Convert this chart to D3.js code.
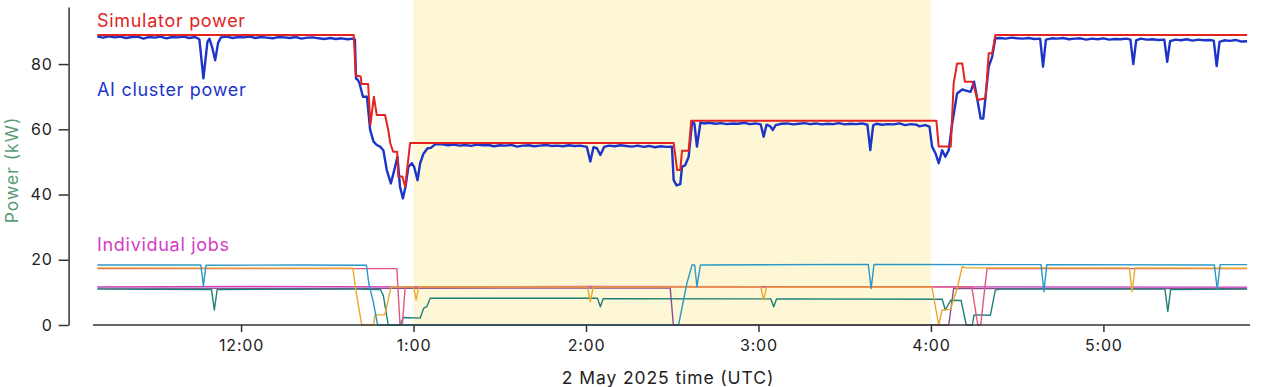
<!DOCTYPE html>
<html>
<head>
<meta charset="utf-8">
<script src="https://cdn.jsdelivr.net/npm/d3@7"></script>
<style>
  body { margin: 0; background: #fff; }
  svg { display: block; font-family: Inter, "Noto Sans", sans-serif; }
</style>
</head>
<body>
<div id="wrapper"></div>
<script>
// times are minutes after 23:00 UTC on 1 May 2025, values in kW

const simulatorPower = [
  [10, 88.9], [99.2, 88.9], [99.9, 76.5], [101.6, 76.2], [101.9, 73.9], [104.2, 73.9],
  [105.0, 61.3], [106.2, 70.0], [107.2, 64.4], [110.1, 64.4], [111.2, 59.8], [111.9, 55.8],
  [112.9, 53.1], [114.3, 53.1], [114.7, 45.5], [116.1, 45.5], [117.1, 42.4], [118.8, 55.8],
  [210.5, 55.8], [211.7, 47.5], [212.8, 47.5], [213.4, 53.4], [215.7, 53.4], [216.6, 62.6],
  [301.9, 62.6], [302.7, 54.7], [306.9, 54.7], [307.9, 74.1], [309.1, 80.2], [310.9, 80.2],
  [311.8, 74.6], [314.4, 74.6], [316.3, 69.0], [319.0, 69.5], [320.1, 83.3], [321.3, 83.3],
  [322.4, 88.9], [410, 88.9]
]

const clusterPower = [
  [10, 88.4], [12, 88.1], [14, 88.5], [16, 88.2], [18, 88.4], [20, 88.0], [22, 88.3], [24, 88.4],
  [26, 87.8], [28, 88.3], [30, 88.1], [32, 88.4], [34, 87.9], [36, 88.3], [38, 88.2], [40, 88.4],
  [42, 88.0], [44, 88.3], [45.5, 87.6], [46.9, 75.6], [48.3, 86.8], [49, 87.8], [50, 85.0],
  [51, 81.2], [52, 86.5], [53, 88.2], [55, 88.4], [57, 88.0], [59, 88.3], [61, 88.2], [63, 88.4],
  [65, 88.0], [67, 88.3], [69, 88.1], [71, 87.9], [73, 88.3], [75, 88.2], [77, 88.0], [79, 88.3],
  [81, 87.8], [83, 88.1], [85, 88.2], [87, 87.9], [89, 87.7], [91, 88.0], [93, 87.7], [95, 87.9],
  [97, 87.6], [99, 87.8], [99.6, 87.5], [100, 75.6], [100.6, 75.2], [101.2, 74.1], [102.4, 70.0],
  [103.8, 70.0], [104.9, 59.8], [106.1, 56.2], [107.2, 55.2], [108.4, 54.7], [109.5, 53.6],
  [110.7, 47.5], [112.1, 43.4], [113.3, 47.5], [114.4, 51.6], [115.3, 42.4], [116.3, 38.8],
  [117.2, 42.4], [118.2, 48.5], [119.4, 49.6], [120.2, 48.5], [121.4, 44.4], [122.3, 49.6],
  [123.5, 52.6], [124.9, 54.2], [126, 54.3], [127.5, 55.4],
  [130, 55.4], [132, 55.1], [134, 55.3], [136, 55.0], [138, 55.2], [140, 54.9], [142, 55.3],
  [144, 55.1], [146, 55.2], [148, 54.8], [150, 55.1], [152, 55.0], [154, 55.2], [156, 54.7],
  [158, 55.0], [160, 55.1], [162, 54.8], [164, 55.0], [166, 55.2], [168, 54.9], [170, 55.0],
  [172, 54.8], [174, 55.1], [176, 54.9], [178, 55.0], [180.3, 54.6], [181.5, 50.1], [182.6, 54.5],
  [183.8, 54.2], [185, 52.1], [186.3, 54.6], [188, 55.0], [190, 54.8], [192, 55.1], [194, 54.9],
  [196, 54.7], [198, 55.0], [200, 54.6], [202, 54.9], [204, 54.5], [206, 54.8], [208, 54.6],
  [209.9, 54.7], [210.5, 44.4], [211.5, 42.8], [212.8, 43.2], [213.4, 48.5], [214.5, 49.0],
  [215.7, 51.5], [216.9, 62.3], [217.7, 61.8], [218.6, 54.7], [219.8, 62.0],
  [221, 61.8], [223, 62.0], [225, 61.7], [227, 61.9], [229, 61.6], [231, 61.8], [233, 61.7],
  [235, 62.0], [237, 61.6], [239, 61.8], [240.8, 61.5], [241.8, 57.7], [242.8, 61.4], [244, 61.0],
  [245, 59.8], [246, 61.3], [248, 61.7], [250, 61.8], [252, 61.5], [254, 61.7], [256, 61.9],
  [258, 61.6], [260, 61.8], [262, 61.5], [264, 61.7], [266, 61.6], [268, 61.9], [270, 61.5],
  [272, 61.7], [274, 61.6], [276, 61.8], [277.9, 61.4], [278.9, 53.6], [279.9, 61.2], [281, 61.7],
  [283, 61.4], [285, 61.6], [287, 61.5], [289, 61.8], [291, 61.3], [293, 61.6], [295, 61.4],
  [296, 60.9], [298, 61.3], [299.5, 60.8],
  [300.4, 54.7], [301.6, 52.6], [302.7, 49.6], [303.9, 53.6], [305, 51.6], [306.2, 53.6],
  [307.4, 61.8], [309.1, 71.0], [310.9, 72.2], [312.5, 71.8], [313.8, 71.5], [315, 74.6],
  [316.3, 68.4], [317.3, 63.3], [318.2, 63.3], [319, 70.0], [320.1, 79.2], [321.3, 82.2],
  [322.4, 87.9], [324, 88.0], [326, 87.8], [328, 88.1], [330, 87.9], [332, 87.8], [334, 88.0],
  [336, 87.7], [338, 87.8], [339, 79.2], [340, 87.5], [342, 87.9], [344, 87.8], [346, 88.0],
  [348, 87.6], [350, 87.8], [352, 87.9], [354, 87.5], [356, 87.8], [358, 87.6], [360, 87.9],
  [362, 87.5], [364, 87.7], [366, 87.6], [368, 87.8], [369.4, 87.5], [370.4, 80.0], [371.4, 87.3],
  [373, 87.8], [375, 87.5], [377, 87.6], [379, 87.4], [381.2, 87.5], [382.2, 80.7], [383.2, 87.0],
  [385, 87.5], [387, 87.3], [389, 87.6], [391, 87.2], [393, 87.5], [395, 87.3], [397, 87.4],
  [398.4, 87.2], [399.4, 79.4], [400.4, 86.8], [402, 87.3], [404, 87.1], [406, 87.4], [408, 86.9],
  [410, 87.0]
]

// individual jobs
const jobMagenta = [
  [10, 11.7], [60, 11.8], [120, 11.7], [180, 11.8], [250, 11.7], [320, 11.7], [410, 11.6]
]
const jobPurple = [
  [10, 11.3], [80, 11.2], [150, 11.3], [209.3, 11.3], [210.4, 0], [306.2, 0], [307.9, 11.2],
  [410, 11.2]
]
const jobTeal = [
  [10, 11.0], [49.7, 10.9], [50.7, 4.6], [51.7, 10.9], [100, 11.0], [108.5, 10.9], [109.5, 9.0],
  [111.2, 0], [115.3, 0], [116.4, 2.3], [122.3, 2.1], [123.5, 5.1], [124.6, 5.6], [125.8, 8.2],
  [184, 8.2], [185, 5.6], [186, 8.1], [244.3, 8.0], [245.3, 5.6], [246.3, 8.0], [303.9, 7.9],
  [305, 4.6], [306.9, 7.6], [310.5, 7.5], [312.3, 0], [314.4, 0], [315, 3.1], [320.7, 3.0],
  [322.4, 10.7], [324, 11.0], [381.4, 11.0], [382.4, 4.1], [383.4, 10.9], [410, 11.0]
]
const jobCyan = [
  [10, 18.4], [46, 18.4], [46.9, 12.0], [47.8, 18.3], [80, 18.4], [103.6, 18.3], [104.5, 12.5],
  [106, 7.1], [107.5, 0], [212.2, 0], [215.1, 12.8], [216.9, 18.4], [217.8, 18.4], [218.6, 11.7],
  [219.8, 18.4], [278.2, 18.6], [279.2, 11.2], [280.2, 18.6], [338.3, 18.5], [339.3, 10.2],
  [340.3, 18.5], [398.6, 18.4], [399.6, 10.9], [400.6, 18.5], [410, 18.5]
]
const jobOrange = [
  [10, 17.5], [98.9, 17.4], [100, 10.2], [102, 0], [106.1, 0], [106.6, 3.1], [110, 3.1],
  [112.2, 11.7], [120, 11.7], [120.9, 7.7], [121.8, 11.7], [180.5, 11.7], [181.5, 7.1],
  [182.5, 11.7], [240.8, 11.7], [241.8, 7.7], [242.8, 11.6], [300, 11.6], [300.4, 11.2],
  [302.7, 0], [303.9, 4.6], [306.8, 4.8], [309.1, 11.2], [310.9, 17.9], [312, 17.5], [369, 17.5],
  [370, 10.2], [371, 17.5], [410, 17.4]
]
const jobPink = [
  [10, 17.3], [114.2, 17.3], [115.3, 0], [116.1, 0], [117.1, 11.7], [200, 11.7], [314.2, 11.7],
  [316.3, 0], [317.3, 0], [319.5, 17.3], [410, 17.3]
]

const hourTicks = [60, 120, 180, 240, 300, 360]   // 12:00 ... 5:00
const powerTicks = [0, 20, 40, 60, 80]
const highlightSpan = [120, 300]                  // 1:00 to 4:00

const labels = {
  sim: "Simulator power",
  cluster: "AI cluster power",
  jobs: "Individual jobs",
  xTitle: "2 May 2025 time (UTC)",
  yTitle: "Power (kW)"
}

const base = Date.UTC(2025, 4, 1, 23, 0)
const toDate = m => new Date(base + m * 60000)

const width = 1280
const height = 387

const svg = d3.select("#wrapper")
  .append("svg")
  .attr("width", width)
  .attr("height", height)

const xScale = d3.scaleUtc()
  .domain([toDate(0), toDate(411)])
  .range([68.6, 1250])

const yScale = d3.scaleLinear()
  .domain([0, 97.5])
  .range([325, 7])

// shaded window
svg.append("rect")
  .attr("x", xScale(toDate(highlightSpan[0])))
  .attr("y", 0)
  .attr("width", xScale(toDate(highlightSpan[1])) - xScale(toDate(highlightSpan[0])))
  .attr("height", yScale(0))
  .attr("fill", "#fdf7d6")

const line = d3.line()
  .x(d => xScale(toDate(d[0])))
  .y(d => yScale(d[1]))

const jobs = [
  { data: jobMagenta, color: "#d43cc4" },
  { data: jobPurple, color: "#8c4f8e" },
  { data: jobTeal, color: "#1f7f78" },
  { data: jobPink, color: "#e2577a" },
  { data: jobOrange, color: "#e9a82a" },
  { data: jobCyan, color: "#2a98c8" }
]

svg.append("g")
  .selectAll("path")
  .data(jobs)
  .join("path")
    .attr("d", d => line(d.data))
    .attr("fill", "none")
    .attr("stroke", d => d.color)
    .attr("stroke-width", 1.4)
    .attr("stroke-linejoin", "round")

svg.append("path")
  .attr("d", line(clusterPower))
  .attr("fill", "none")
  .attr("stroke", "#1d34c8")
  .attr("stroke-width", 2.4)
  .attr("stroke-linejoin", "round")

svg.append("path")
  .attr("d", line(simulatorPower))
  .attr("fill", "none")
  .attr("stroke", "#e2231f")
  .attr("stroke-width", 2)
  .attr("stroke-linejoin", "round")

// axes
const yAxis = svg.append("g")
  .attr("transform", "translate(68.6,0)")
  .call(d3.axisLeft(yScale).tickValues(powerTicks).tickSize(10).tickPadding(6).tickSizeOuter(0))
yAxis.select(".domain").attr("stroke", "#333").attr("stroke-width", 1.5)
yAxis.selectAll(".tick line").attr("stroke", "#333").attr("stroke-width", 1.5)
yAxis.selectAll(".tick text")
  .attr("fill", "#222")
  .style("font-size", "16px")
  .style("letter-spacing", "0.8px")
  .style("font-family", "Inter, sans-serif")

const xAxis = svg.append("g")
  .attr("transform", `translate(0,${yScale(0)})`)
  .call(d3.axisBottom(xScale)
    .tickValues(hourTicks.map(toDate))
    .tickFormat(d3.utcFormat("%-I:%M"))
    .tickSizeInner(7)
    .tickSizeOuter(0)
    .tickPadding(8))
xAxis.select(".domain")
  .attr("d", `M${xScale(toDate(8.5))},0H${xScale(toDate(411))}`)
  .attr("stroke", "#333").attr("stroke-width", 1.5)
xAxis.selectAll(".tick line").attr("stroke", "#333").attr("stroke-width", 1.5)
xAxis.selectAll(".tick text")
  .attr("fill", "#222")
  .style("font-size", "16px")
  .style("letter-spacing", "0.8px")
  .style("font-family", "Inter, sans-serif")

// labels
const legendStyle = sel => sel
  .style("font-size", "18px")
  .style("letter-spacing", "0.7px")

svg.append("text")
  .attr("x", 97).attr("y", 26.5)
  .attr("fill", "#e2231f")
  .call(legendStyle)
  .text(labels.sim)

svg.append("text")
  .attr("x", 97).attr("y", 96)
  .attr("fill", "#1d34c8")
  .call(legendStyle)
  .text(labels.cluster)

svg.append("text")
  .attr("x", 97).attr("y", 250.5)
  .attr("fill", "#d43cc4")
  .call(legendStyle)
  .text(labels.jobs)

svg.append("text")
  .attr("x", 668).attr("y", 384)
  .attr("text-anchor", "middle")
  .attr("fill", "#222")
  .style("font-size", "17.5px")
  .style("letter-spacing", "0.9px")
  .text(labels.xTitle)

svg.append("text")
  .attr("transform", "translate(18,170) rotate(-90)")
  .attr("text-anchor", "middle")
  .attr("fill", "#5a9c78")
  .style("font-size", "17.5px")
  .style("letter-spacing", "1px")
  .text(labels.yTitle)
</script>
</body>
</html>
